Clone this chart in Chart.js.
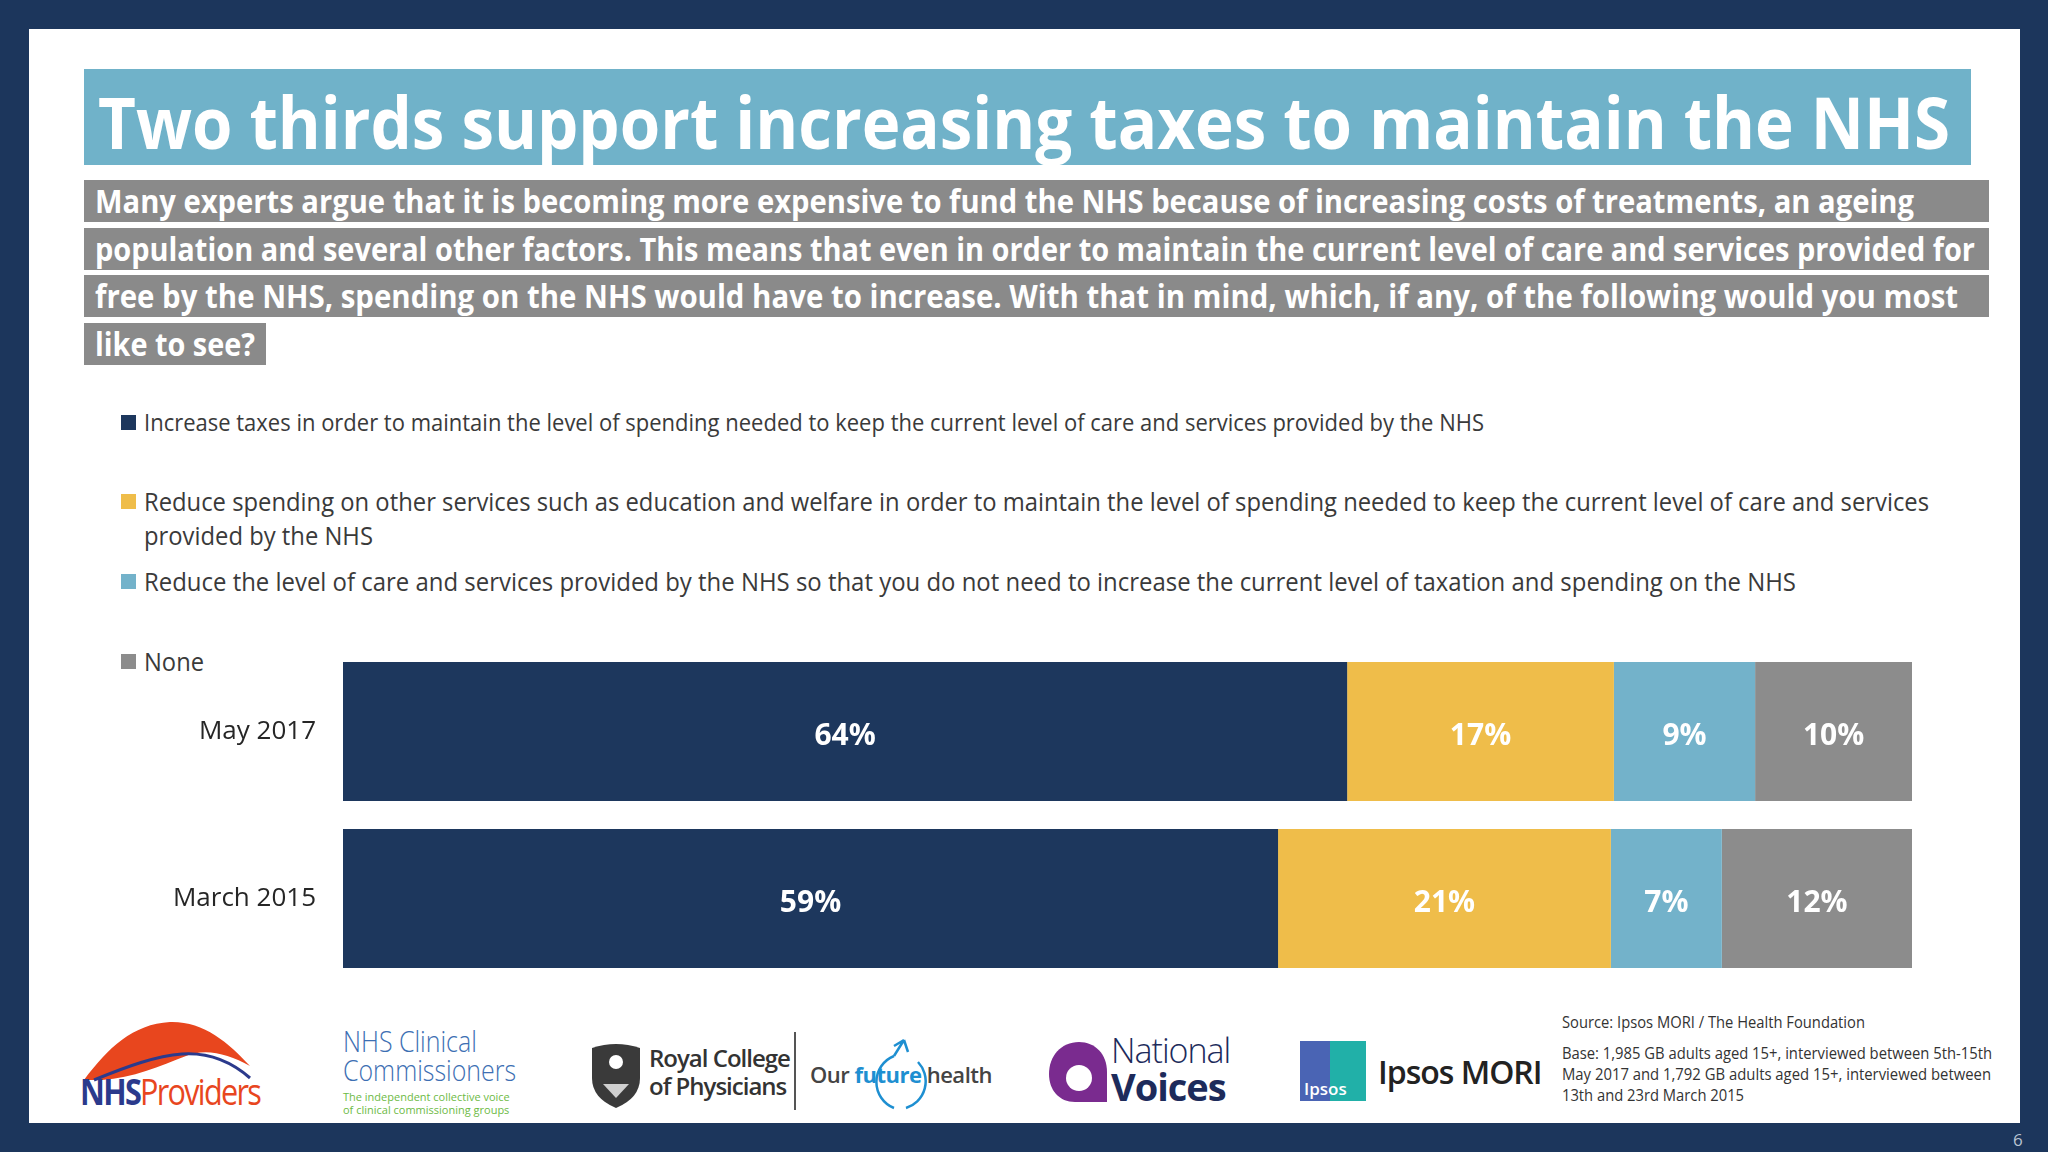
<!DOCTYPE html>
<html>
<head>
<meta charset="utf-8">
<script src="https://cdn.jsdelivr.net/npm/chart.js@4.4.1/dist/chart.umd.min.js"></script>
<style>
  html, body { margin: 0; padding: 0; }
  body { width: 2048px; height: 1152px; background: #1c365c; position: relative; overflow: hidden; font-family: "Open Sans", sans-serif; }
  #panel { position: absolute; left: 29px; top: 29px; width: 1991px; height: 1094px; background: #fff; }
  .abs { position: absolute; }
  .fit { display: inline-block; white-space: pre; transform-origin: left center; }
  #title { left: 84px; top: 69px; width: 1887px; height: 96px; background: #70b2c9; color: #fff; font-weight: 700; font-size: 71px; line-height: 106px; padding-left: 14px; box-sizing: border-box; overflow: hidden; }
  .sub { left: 84px; height: 42px; background: #8a8a8a; color: #fff; font-weight: 700; font-size: 32px; line-height: 42px; padding-left: 11px; box-sizing: border-box; overflow: hidden; }
  #legend { left: 121px; top: 400px; width: 1880px; }
  .lg { position: absolute; left: 0; font-size: 26px; line-height: 34px; color: #3a3a3a; }
  .lg i { position: absolute; left: 0; top: 10px; width: 15px; height: 15px; }
  .lg span { margin-left: 23px; }
  #chartBox { left: 100px; top: 648px; }
  .src { left: 1562px; font-size: 16px; color: #333; line-height: 21px; }
  #pageNo { left: 2013px; top: 1128px; font-size: 17px; color: #b9c3d2; }
</style>
</head>
<body>
<div id="panel"></div>

<div id="title" class="abs"><span class="fit" data-w="1852">Two thirds support increasing taxes to maintain the NHS</span></div>
<div id="subs"></div>
<div id="legend" class="abs"></div>

<div id="chartBox" class="abs"><canvas id="chart" width="1812" height="334"></canvas></div>

<!-- footer logos (approximations) -->
<div class="abs" style="left:78px;top:1018px;width:215px;height:94px;">
  <svg width="215" height="64" style="position:absolute;left:0;top:0">
    <path d="M6,62 C30,30 55,6 92,4 C125,3 150,24 172,48 C150,36 128,30 108,38 C82,48 55,60 24,62 Z" fill="#e8461e"/>
    <path d="M16,62 C50,48 78,38 104,36 C134,34 156,46 172,60" stroke="#2b3a8c" stroke-width="3" fill="none"/>
  </svg>
  <div class="abs" style="left:2px;top:54px;font-size:36px;line-height:40px;font-weight:700;letter-spacing:-2px;white-space:nowrap;transform:scaleX(0.85);transform-origin:left;"><span style="color:#2b3a8c">NHS</span><span style="color:#e8461e;font-weight:400">Providers</span></div>
</div>
<div class="abs" style="left:343px;top:1026px;white-space:nowrap;">
  <div style="font-size:29px;line-height:29px;color:#3d6fb3;transform:scaleX(0.86);transform-origin:left;font-weight:300;">NHS Clinical<br>Commissioners</div>
  <div style="font-size:11px;line-height:13px;color:#6dba45;margin-top:6px;">The independent collective voice<br>of clinical commissioning groups</div>
</div>
<div class="abs" style="left:589px;top:1040px;">
  <svg width="54" height="70"><path d="M3,8 Q27,0 51,8 L51,38 Q51,58 27,68 Q3,58 3,38 Z" fill="#3a3a3a"/><circle cx="27" cy="22" r="7" fill="#fff"/><path d="M14,44 L40,44 L27,58 Z" fill="#cfcfcf"/></svg>
</div>
<div class="abs" style="left:649px;top:1044px;font-size:24px;line-height:28px;color:#333;font-weight:600;letter-spacing:-1px;white-space:nowrap;">Royal College<br>of Physicians</div>
<div class="abs" style="left:794px;top:1032px;width:2px;height:78px;background:#555;"></div>
<div class="abs" style="left:810px;top:1032px;width:180px;height:80px;">
  <svg width="180" height="80" style="position:absolute;left:0;top:0">
    <path d="M84,24 A28,28 0 0,0 84,76" stroke="#1e8fd1" stroke-width="2.5" fill="none"/>
    <path d="M96,76 A28,28 0 0,0 108,30" stroke="#1e8fd1" stroke-width="2.5" fill="none"/>
    <path d="M84,24 L94,8 M94,8 L98,20 M94,8 L84,14" stroke="#1e8fd1" stroke-width="2.5" fill="none"/>
  </svg>
  <div class="abs" style="left:0;top:27px;font-size:22px;font-weight:600;color:#444;white-space:nowrap;letter-spacing:-0.5px;">Our <span style="color:#1e8fd1;font-weight:700">future</span> health</div>
</div>
<div class="abs" style="left:1045px;top:1036px;width:200px;height:70px;">
  <svg width="70" height="70" style="position:absolute;left:0;top:2px"><path d="M34,4 C16,4 4,18 4,36 C4,52 14,64 30,64 L62,64 L62,34 C62,16 50,4 34,4 Z" fill="#7a2b8f"/><circle cx="34" cy="40" r="13" fill="#fff"/></svg>
  <div class="abs" style="left:66px;top:-4px;font-size:34px;line-height:36px;color:#1d2b5b;white-space:nowrap;font-weight:300;letter-spacing:-1px;">National</div>
  <div class="abs" style="left:66px;top:30px;font-size:38px;line-height:40px;color:#1d2b5b;white-space:nowrap;font-weight:700;letter-spacing:-1px;">Voices</div>
</div>
<div class="abs" style="left:1300px;top:1041px;width:66px;height:60px;background:#4a64b4;">
  <div style="position:absolute;left:30px;top:0;width:36px;height:60px;background:#21b0a8;"></div>
  <div style="position:absolute;left:4px;top:36px;font-size:17px;color:#fff;font-weight:600;">Ipsos</div>
</div>
<div class="abs" style="left:1378px;top:1050px;font-size:32px;font-weight:600;color:#222;white-space:nowrap;letter-spacing:-1px;">Ipsos MORI</div>

<div class="abs src" style="top:1012px;"><span class="fit" data-w="303">Source: Ipsos MORI / The Health Foundation</span></div>
<div class="abs src" style="top:1043px;"><span class="fit" data-w="430">Base: 1,985 GB adults aged 15+, interviewed between 5th-15th</span><br><span class="fit" data-w="429">May 2017 and 1,792 GB adults aged 15+, interviewed between</span><br><span class="fit" data-w="182">13th and 23rd March 2015</span></div>
<div id="pageNo" class="abs">6</div>

<script>
let subtitleLines = [
    'Many experts argue that it is becoming more expensive to fund the NHS because of increasing costs of treatments, an ageing',
    'population and several other factors. This means that even in order to maintain the current level of care and services provided for',
    'free by the NHS, spending on the NHS would have to increase. With that in mind, which, if any, of the following would you most',
    'like to see?'
];

let categories = ['May 2017', 'March 2015'];
let seriesNames = [
    'Increase taxes in order to maintain the level of spending needed to keep the current level of care and services provided by the NHS',
    'Reduce spending on other services such as education and welfare in order to maintain the level of spending needed to keep the current level of care and services\nprovided by the NHS',
    'Reduce the level of care and services provided by the NHS so that you do not need to increase the current level of taxation and spending on the NHS',
    'None'
];
let increaseTaxes = [64, 59];
let reduceOtherServices = [17, 21];
let reduceCare = [9, 7];
let noneOfThese = [10, 12];

let seriesColors = ['#1d375d', '#efbd4a', '#73b2ca', '#8c8c8c'];

// the chart is a 100% stacked bar, so each row is scaled to its own total
let allSeries = [increaseTaxes, reduceOtherServices, reduceCare, noneOfThese];
let rowTotals = categories.map((c, i) => allSeries.reduce((s, arr) => s + arr[i], 0));

// subtitle strips (widths of the text measured off the slide)
let subTextWidths = [1819, 1880, 1863, 160];
let subs = document.getElementById('subs');
subtitleLines.forEach((line, i) => {
    let d = document.createElement('div');
    d.className = 'abs sub';
    d.style.top = (180 + i * 47.5) + 'px';
    d.style.width = i < 3 ? '1905px' : '182px';
    d.innerHTML = '<span class="fit"></span>';
    d.firstChild.textContent = line;
    d.firstChild.dataset.w = subTextWidths[i];
    subs.appendChild(d);
});

let barLabels = {
    id: 'barLabels',
    afterDatasetsDraw(chart) {
        let ctx = chart.ctx;
        ctx.save();
        ctx.font = 'bold 30px "Open Sans"';
        ctx.fillStyle = '#ffffff';
        ctx.textAlign = 'center';
        ctx.textBaseline = 'middle';
        chart.data.datasets.forEach((ds, di) => {
            chart.getDatasetMeta(di).data.forEach((bar, i) => {
                let p = bar.getProps(['x', 'y', 'base'], true);
                ctx.fillText(ds.raw[i] + '%', (p.x + p.base) / 2, p.y + 5);
            });
        });
        ctx.restore();
    }
};

let ctx = document.getElementById('chart').getContext('2d');
let chart = new Chart(ctx, {
    type: 'bar',
    data: {
        labels: categories,
        datasets: allSeries.map((arr, k) => ({
            label: seriesNames[k],
            raw: arr,
            data: arr.map((v, i) => v / rowTotals[i] * 100),
            backgroundColor: seriesColors[k],
            borderWidth: 0,
            categoryPercentage: 1,
            barPercentage: 0.832
        }))
    },
    options: {
        indexAxis: 'y',
        responsive: false,
        animation: false,
        devicePixelRatio: 1,
        layout: { padding: 0 },
        plugins: { legend: { display: false }, tooltip: { enabled: false } },
        scales: {
            x: { stacked: true, min: 0, max: 100, display: false },
            y: {
                stacked: true,
                grid: { display: false, drawTicks: false },
                border: { display: false },
                ticks: { color: '#262626', font: { family: 'Open Sans', size: 26 }, padding: 27 },
                afterFit: function(scale) {
                    scale.width = 243;
                    // labels sit in the middle of each row, no extra room needed above/below
                    scale.paddingTop = 0;
                    scale.paddingBottom = 0;
                }
            }
        }
    },
    plugins: [barLabels]
});

// legend built from the chart's datasets
let legendTops = [405, 484, 564, 644];
let legendTextWidths = [1340, 1785, 1652, 60];
let legend = document.getElementById('legend');
chart.data.datasets.forEach((ds, k) => {
    let item = document.createElement('div');
    item.className = 'lg';
    item.style.top = (legendTops[k] - 400) + 'px';
    if (k === 0) item.style.fontSize = '24px';
    item.innerHTML = '<i></i><span class="fit"></span>';
    item.querySelector('i').style.background = ds.backgroundColor;
    let span = item.querySelector('span');
    span.textContent = ds.label.split('\n')[0];
    span.dataset.w = legendTextWidths[k];
    legend.appendChild(item);
    // wrapped second line of a long label
    ds.label.split('\n').slice(1).forEach(r => {
        let s2 = document.createElement('span');
        s2.className = 'fit';
        s2.textContent = r;
        item.appendChild(document.createElement('br'));
        item.appendChild(s2);
    });
});

document.fonts.ready.then(() => {
    let last = 1;
    document.querySelectorAll('.fit').forEach(s => {
        if (s.dataset.w) {
            s.style.transform = '';
            last = Number(s.dataset.w) / s.getBoundingClientRect().width;
        }
        s.style.transform = 'scaleX(' + last + ')';
    });
    chart.update();
});
</script>
</body>
</html>
